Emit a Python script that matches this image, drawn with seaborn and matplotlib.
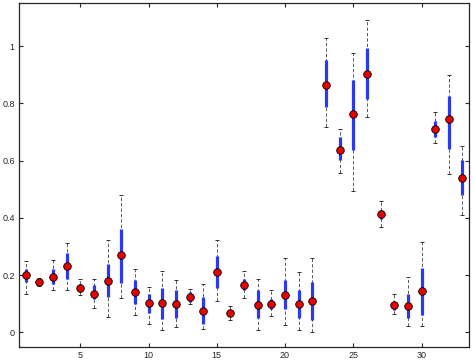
import numpy as np
import pandas as pd
import matplotlib
matplotlib.use("Agg")
import matplotlib.pyplot as plt
import seaborn as sns

# values, one entry per group (1..33)
group = list(range(1, 34))
median = [0.199, 0.176, 0.195, 0.231, 0.156, 0.133, 0.178, 0.269, 0.141, 0.103,
          0.104, 0.099, 0.125, 0.073, 0.211, 0.069, 0.167, 0.097, 0.099, 0.132,
          0.099, 0.110, 0.866, 0.636, 0.762, 0.904, 0.415, 0.094, 0.092, 0.144,
          0.710, 0.744, 0.541]
q3 = [0.223, 0.188, 0.223, 0.277, 0.170, 0.164, 0.238, 0.361, 0.184, 0.135,
      0.156, 0.147, 0.141, 0.123, 0.266, 0.076, 0.188, 0.147, 0.118, 0.184,
      0.147, 0.176, 0.951, 0.683, 0.883, 0.995, 0.429, 0.106, 0.135, 0.226,
      0.738, 0.825, 0.601]
q1 = [0.176, 0.164, 0.168, 0.188, 0.141, 0.118, 0.123, 0.172, 0.100, 0.068,
      0.048, 0.051, 0.106, 0.030, 0.156, 0.060, 0.147, 0.051, 0.083, 0.083,
      0.050, 0.042, 0.786, 0.604, 0.636, 0.814, 0.397, 0.079, 0.051, 0.059,
      0.681, 0.642, 0.479]
hi = [0.249, 0.191, 0.252, 0.312, 0.185, 0.185, 0.322, 0.479, 0.223, 0.159,
      0.213, 0.182, 0.153, 0.168, 0.322, 0.092, 0.213, 0.188, 0.147, 0.260,
      0.211, 0.261, 1.027, 0.709, 0.977, 1.093, 0.459, 0.135, 0.193, 0.316,
      0.770, 0.899, 0.650]
lo = [0.133, 0.161, 0.147, 0.149, 0.129, 0.086, 0.054, 0.121, 0.062, 0.030,
      0.009, 0.019, 0.098, 0.010, 0.110, 0.042, 0.121, 0.007, 0.056, 0.027,
      0.009, 0.001, 0.716, 0.557, 0.494, 0.751, 0.368, 0.063, 0.021, 0.021,
      0.662, 0.555, 0.409]

df = pd.DataFrame({"group": group, "median": median, "q1": q1, "q3": q3,
                   "lo": lo, "hi": hi})

sns.set_style("ticks")
plt.rcParams["font.family"] = ["Liberation Sans", "DejaVu Sans"]
plt.rcParams["xtick.direction"] = "in"
plt.rcParams["ytick.direction"] = "in"

fig = plt.figure(figsize=(4.74, 3.63), dpi=100)
ax = fig.add_axes([0.040, 0.045, 0.950, 0.946])

# whiskers: dashed line from lower to upper adjacent value, with short caps
ax.vlines(df["group"], df["lo"], df["hi"], colors="#404040", linestyles=(0, (4, 2.5)),
          linewidth=0.6, zorder=1)
ax.plot(df["group"], df["hi"], linestyle="none", marker="_", color="#303030",
        markersize=3, markeredgewidth=0.7, zorder=1)
ax.plot(df["group"], df["lo"], linestyle="none", marker="_", color="#303030",
        markersize=3, markeredgewidth=0.7, zorder=1)

# boxes (compact style): thick blue segment from q1 to q3
ax.vlines(df["group"], df["q1"], df["q3"], colors="#2a3af2", linewidth=2.3, zorder=2)

# medians
sns.scatterplot(data=df, x="group", y="median", ax=ax, s=30, color="#e60000",
                edgecolor="black", linewidth=0.6, zorder=3, legend=False)

ax.set_xlim(0.5, 33.5)
ax.set_ylim(-0.05, 1.15)
ax.set_xticks([5, 10, 15, 20, 25, 30])
ax.set_yticks([0, 0.2, 0.4, 0.6, 0.8, 1.0])
ax.set_yticklabels(["0", "0.2", "0.4", "0.6", "0.8", "1"])
ax.set_xlabel("")
ax.set_ylabel("")
ax.tick_params(axis="both", labelsize=6.5, length=3, width=0.8, pad=3,
               top=True, right=True)
for s in ax.spines.values():
    s.set_linewidth(0.9)
    s.set_visible(True)

fig.savefig("out.png", dpi=100)
